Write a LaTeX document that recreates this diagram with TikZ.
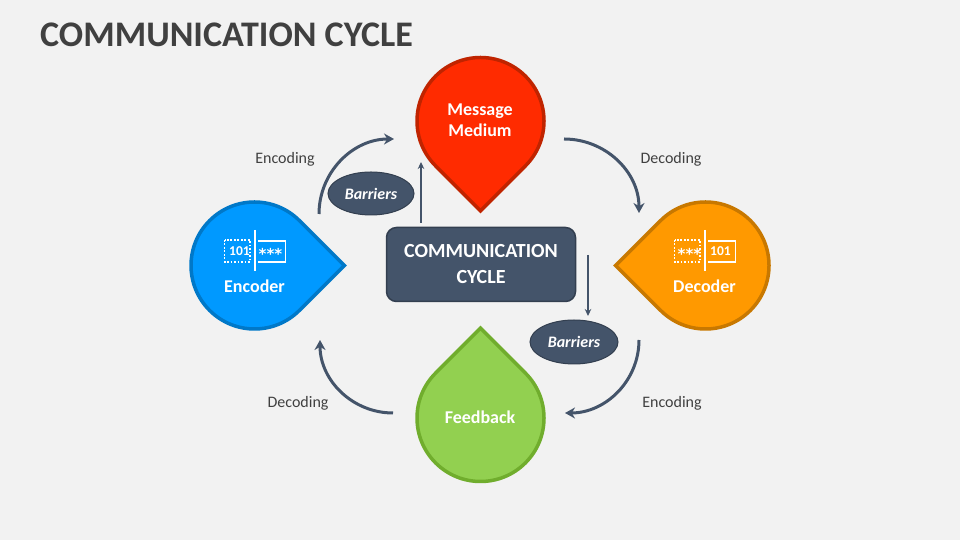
\documentclass[tikz,border=0pt]{standalone}
\usepackage{fontspec}
\setmainfont{Carlito}
\newfontfamily\starfont{DejaVu Sans}
\usetikzlibrary{arrows.meta,shapes.geometric}
\definecolor{bgGray}{HTML}{F2F2F2}
\definecolor{textGray}{HTML}{404040}
\definecolor{slate}{HTML}{44546A}
\definecolor{slateDark}{HTML}{333F50}
\tikzset{
    dropRed/.style = {fill = {rgb,255:red,255;green,43;blue,0}, draw = {rgb,255:red,192;green,36;blue,0}, line width = 3.5pt},
    dropBlue/.style = {fill = {rgb,255:red,0;green,153;blue,255}, draw = {rgb,255:red,0;green,120;blue,200}, line width = 3.5pt},
    dropOrange/.style = {fill = {rgb,255:red,255;green,153;blue,0}, draw = {rgb,255:red,200;green,120;blue,0}, line width = 3.5pt},
    dropGreen/.style = {fill = {rgb,255:red,146;green,208;blue,80}, draw = {rgb,255:red,112;green,173;blue,45}, line width = 3.5pt},
    dropText/.style = {text = white, font = \fontsize{18}{21}\selectfont\bfseries, align = center},
    barrierShape/.style = {ellipse, fill = slate, draw = slateDark, line width = 1pt, minimum width = 86pt, minimum height = 43pt, inner sep = 0pt, text = white, font = \fontsize{16}{16}\selectfont\bfseries\itshape},
    caseBox/.style = {rectangle, rounded corners = 10pt, fill = slate, draw = slateDark, line width = 1.5pt, minimum width = 189pt, minimum height = 74pt, text = white, align = center, font = \fontsize{20}{26}\selectfont\bfseries},
    flowLabel/.style = {text = textGray, font = \fontsize{16}{16}\selectfont},
    bigArrow/.style = {draw = slate, line width = 3pt, -{Stealth[length = 10pt, width = 11pt]}},
    thinArrow/.style = {draw = slate, line width = 1.7pt, -{Stealth[length = 7pt, width = 6.5pt]}},
    iconLine/.style = {draw = white, line width = 1.3pt},
    iconDots/.style = {draw = white, line width = 1.5pt, dash pattern = on 1.6pt off 1.9pt},
    iconText/.style = {text = white, inner sep = 0pt, font = \fontsize{13.5}{13.5}\selectfont\bfseries},
    iconStars/.style = {text = white, inner sep = 0pt, font = \fontsize{15}{15}\starfont\bfseries}
}
% circle of radius 65 with a point at #2 degrees
\newcommand{\teardrop}[3]{
    \draw[#3] ([shift = {(#2+45:63.5)}]#1) arc[start angle = #2+45, delta angle = 270, radius = 63.5] -- ([shift = {(#2:89.8)}]#1) -- cycle;
}
\begin{document}
\begin{tikzpicture}[x = 1pt, y = 1pt]
    \fill[bgGray] (0, 0) rectangle (960, 540);
    \useasboundingbox (0, 0) rectangle (960, 540);
    \node[anchor = west, inner sep = 0pt, text = textGray, font = \fontsize{36}{38}\selectfont\bfseries] (title) at (40, 505.5){COMMUNICATION CYCLE};

    \coordinate (medium) at (480.5, 419);
    \coordinate (encoder) at (254.5, 274.5);
    \coordinate (decoder) at (705.5, 274.5);
    \coordinate (feedback) at (480.5, 122);
    \teardrop{medium}{-90}{dropRed}
    \teardrop{encoder}{0}{dropBlue}
    \teardrop{decoder}{180}{dropOrange}
    \teardrop{feedback}{90}{dropGreen}

    \node[dropText] (mediumText) at (480, 420){Message\\Medium};
    \node[dropText] (encoderText) at (254.5, 253.5){Encoder};
    \node[dropText] (decoderText) at (704.5, 253.5){Decoder};
    \node[dropText] (feedbackText) at (480, 122.5){Feedback};

    \node[caseBox] (cycleBox) at (481, 275.5){COMMUNICATION\\CYCLE};
    \node[barrierShape] (barrierTop) at (371, 346.5){Barriers};
    \node[barrierShape, minimum width = 88pt, minimum height = 44pt] (barrierBottom) at (574, 198){Barriers};

    % curved arrows
    \coordinate (encoderOut) at (319, 326);
    \coordinate (mediumIn) at (394, 401);
    \coordinate (mediumOut) at (564, 401);
    \coordinate (decoderIn) at (639, 327);
    \coordinate (decoderOut) at (639, 200);
    \coordinate (feedbackIn) at (565, 127);
    \coordinate (feedbackOut) at (393, 127);
    \coordinate (encoderIn) at (320, 200);
    \draw[bigArrow] (encoderOut) to[out = 90, in = 180] (mediumIn);
    \draw[bigArrow] (mediumOut) to[out = 0, in = 90] (decoderIn);
    \draw[bigArrow] (decoderOut) to[out = -90, in = 0] (feedbackIn);
    \draw[bigArrow] (feedbackOut) to[out = 180, in = -90] (encoderIn);

    % straight arrows
    \coordinate (boxTop) at (421, 317);
    \coordinate (mediumLow) at (421, 378);
    \coordinate (boxSide) at (588, 285);
    \coordinate (barrierAbove) at (588, 224);
    \draw[thinArrow] (boxTop) -- (mediumLow);
    \draw[thinArrow] (boxSide) -- (barrierAbove);

    \node[flowLabel] (encodingTop) at (285, 381){Encoding};
    \node[flowLabel] (decodingTop) at (671, 381){Decoding};
    \node[flowLabel] (decodingLow) at (298, 137){Decoding};
    \node[flowLabel] (encodingLow) at (672, 137){Encoding};

    % encoder icon
    \draw[iconDots] (224.5, 300) rectangle (250, 278);
    \draw[iconLine] (255, 310) -- (255, 269);
    \draw[iconLine] (258, 299) -- (285.5, 299) -- (285.5, 278) -- (258, 278);
    \node[iconText] (encoderBits) at (239.5, 288.5){101};
    \node[iconStars] (encoderStars) at (270.5, 286.5){***};

    % decoder icon
    \draw[iconDots] (674.5, 300) rectangle (700, 278);
    \draw[iconLine] (705, 310) -- (705, 269);
    \draw[iconLine] (708, 299) -- (735.5, 299) -- (735.5, 278) -- (708, 278);
    \node[iconStars] (decoderStars) at (689.5, 286.5){***};
    \node[iconText] (decoderBits) at (720.5, 288.5){101};
\end{tikzpicture}
\end{document}
